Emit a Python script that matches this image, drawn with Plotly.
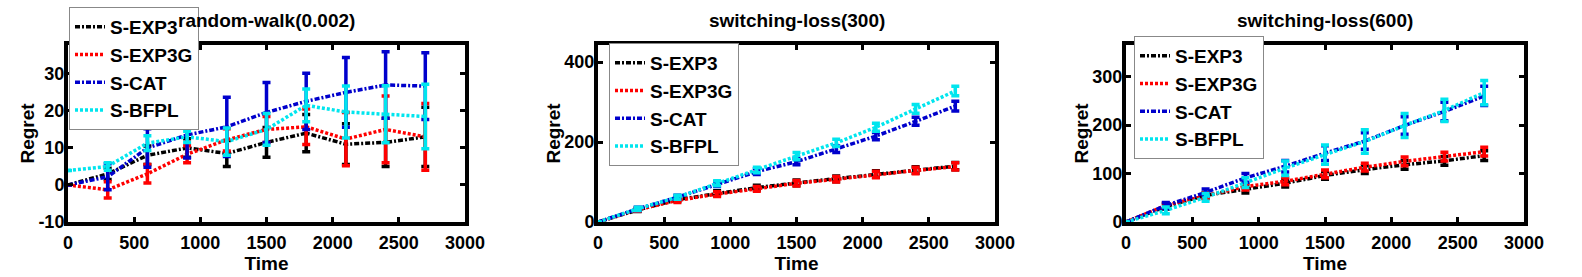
import plotly.graph_objects as go

W, H = 1582, 277
time = [0, 300, 600, 900, 1200, 1500, 1800, 2100, 2400, 2700]
x_ticks = [0, 500, 1000, 1500, 2000, 2500, 3000]
series_names = ["S-EXP3", "S-EXP3G", "S-CAT", "S-BFPL"]
colors = ["#000000", "#ff0000", "#0000cc", "#00e5ee"]
dashes = ["5px,2px,2px,2px", "3px,2px", "5px,2px,2px,2px", "3px,2px"]

# Panel 1: random-walk(0.002)
rw_mean = {
    "S-EXP3":  [0, 3, 8, 10, 8.5, 11.5, 14, 11, 11.5, 13],
    "S-EXP3G": [0, -1.3, 3, 8.3, 12.2, 15, 15.7, 12.4, 15, 13],
    "S-CAT":   [0, 2.2, 10, 13.5, 15.7, 19.6, 22.6, 25, 27, 26.7],
    "S-BFPL":  [3.9, 5, 11.3, 13, 11.7, 15, 21.5, 19.7, 19.1, 18.5],
}
rw_err = {
    "S-EXP3":  [0, 1.5, 2.5, 2.5, 3.5, 4, 5, 5.5, 6.5, 8],
    "S-EXP3G": [0, 2.2, 2.5, 2.3, 3, 3.5, 4.8, 7.2, 9, 9],
    "S-CAT":   [0, 3.5, 5.2, 6.2, 8, 8.1, 7.6, 9.4, 9, 9],
    "S-BFPL":  [0, 1, 2, 1.5, 3.7, 4.3, 4.4, 7, 7.7, 8.7],
}
# Panel 2: switching-loss(300)
s300_mean = {
    "S-EXP3":  [0, 30, 56, 72, 86, 98, 108, 120, 130, 140],
    "S-EXP3G": [0, 31, 54, 70, 83, 97, 107, 119, 129, 139],
    "S-CAT":   [0, 33, 62, 95, 126, 151, 182, 215, 252, 290],
    "S-BFPL":  [0, 33, 62, 97, 130, 165, 198, 237, 283, 328],
}
s300_err = {
    "S-EXP3":  [0, 4, 5, 6, 6, 7, 7, 8, 8, 9],
    "S-EXP3G": [0, 4, 5, 6, 6, 7, 7, 8, 8, 9],
    "S-CAT":   [0, 4, 5, 6, 7, 8, 8, 9, 10, 12],
    "S-BFPL":  [0, 4, 5, 6, 7, 9, 9, 10, 11, 12],
}
# Panel 3: switching-loss(600)
s600_mean = {
    "S-EXP3":  [0, 32, 55, 68, 80, 96, 108, 118, 126, 137],
    "S-EXP3G": [0, 34, 54, 73, 84, 99, 113, 125, 135, 145],
    "S-CAT":   [0, 34, 61, 91, 115, 142, 167, 199, 228, 260],
    "S-BFPL":  [0, 24, 51, 81, 111, 139, 166, 199, 230, 267],
}
s600_err = {
    "S-EXP3":  [0, 5, 6, 8, 8, 8, 8, 9, 9, 10],
    "S-EXP3G": [0, 5, 6, 7, 7, 8, 8, 9, 9, 9],
    "S-CAT":   [0, 6, 7, 9, 12, 15, 17, 18, 19, 20],
    "S-BFPL":  [0, 7, 8, 10, 15, 20, 24, 25, 23, 25],
}

panels = [
    ("random-walk(0.002)", rw_mean, rw_err, [-10, 37.8], [-10, 0, 10, 20, 30]),
    ("switching-loss(300)", s300_mean, s300_err, [0, 443], [0, 200, 400]),
    ("switching-loss(600)", s600_mean, s600_err, [0, 365], [0, 100, 200, 300]),
]
x_px = [(68, 465), (598, 995), (1126, 1524)]
y_px = (45, 222)
legend_pos = [(69, 7), (609, 43), (1134, 36)]

FONT = "Liberation Sans, Arial, sans-serif"
fig = go.Figure()
layout = dict(
    template="none",
    width=W, height=H, margin=dict(l=0, r=0, t=0, b=0, pad=0),
    paper_bgcolor="white", plot_bgcolor="white",
    font=dict(family=FONT, color="black", size=17, weight="bold"),
    annotations=[],
)

for i, (title, means, errs, yr, yt) in enumerate(panels):
    n = i + 1
    xa = "x" if n == 1 else f"x{n}"
    ya = "y" if n == 1 else f"y{n}"
    lg = "legend" if n == 1 else f"legend{n}"
    for name, c, d in zip(series_names, colors, dashes):
        fig.add_trace(go.Scatter(
            x=time, y=means[name], name=name, mode="lines",
            line=dict(color=c, width=3.5, dash=d),
            error_y=dict(type="data", array=errs[name], visible=True,
                         color=c, thickness=3.5, width=4),
            xaxis=xa, yaxis=ya, legend=lg, showlegend=True,
        ))
    x0, x1 = x_px[i]
    axis_common = dict(
        showline=True, linecolor="black", linewidth=4, mirror="allticks",
        ticks="inside", ticklen=5, tickwidth=3, tickcolor="black",
        showgrid=False, zeroline=False, automargin=False,
        tickfont=dict(family=FONT, size=18, color="black", weight="bold"),
    )
    layout["xaxis" if n == 1 else f"xaxis{n}"] = dict(
        axis_common, domain=[x0 / W, x1 / W], range=[0, 3000],
        tickvals=x_ticks, ticktext=[str(v) for v in x_ticks], anchor=ya,
        title=dict(text="Time", standoff=0,
                   font=dict(family=FONT, size=19, weight="bold")),
        ticklabelstandoff=1,
    )
    layout["yaxis" if n == 1 else f"yaxis{n}"] = dict(
        axis_common, domain=[1 - y_px[1] / H, 1 - y_px[0] / H], range=yr,
        tickvals=yt, ticktext=[str(v) for v in yt], anchor=xa,
        title=dict(text="Regret", standoff=0,
                   font=dict(family=FONT, size=19, weight="bold")),
        ticklabelstandoff=-4,
    )
    lx, ly = legend_pos[i]
    layout[lg] = dict(
        x=lx / W, y=1 - ly / H, xanchor="left", yanchor="top",
        bgcolor="white", bordercolor="#888888", borderwidth=1,
        font=dict(family=FONT, size=19, color="black", weight="bold"),
        itemwidth=30, tracegroupgap=0,
    )
    layout["annotations"].append(dict(
        text=title, x=(x0 + x1) / 2 / W, y=1 - 20 / H, xref="paper", yref="paper",
        xanchor="center", yanchor="middle", showarrow=False,
        font=dict(family=FONT, size=19, color="black", weight="bold"),
    ))

fig.update_layout(**layout)
fig.write_html("out.html", config={"displayModeBar": False},
               post_script="document.body.style.margin='0';")
